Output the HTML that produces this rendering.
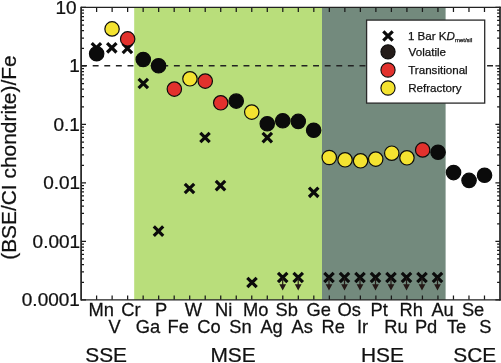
<!DOCTYPE html>
<html><head><meta charset="utf-8"><title>BSE/CI chondrite element depletion</title>
<style>html,body{margin:0;padding:0;background:#fff}svg{display:block}text{font-family:"Liberation Sans",sans-serif;fill:#111;stroke:#111;stroke-width:0.25px}</style>
</head><body>
<svg width="501" height="363" viewBox="0 0 501 363">
<rect width="501" height="363" fill="#fff"/>
<rect x="134.2" y="7.45" width="187.8" height="292.40000000000003" fill="#b9de7b"/>
<rect x="322.0" y="7.45" width="123.60000000000002" height="292.40000000000003" fill="#738a7d"/>
<line x1="81.1" y1="65.7" x2="500.0" y2="65.7" stroke="#222" stroke-width="1.4" stroke-dasharray="5.9 5.7" stroke-dashoffset="0"/>
<path d="M81.1 299.85h4.9M500.0 299.85h-4.6M81.1 282.25h2.9M500.0 282.25h-2.9M81.1 271.95h2.9M500.0 271.95h-2.9M81.1 264.64h2.9M500.0 264.64h-2.9M81.1 258.97h2.9M500.0 258.97h-2.9M81.1 254.34h2.9M500.0 254.34h-2.9M81.1 250.43h2.9M500.0 250.43h-2.9M81.1 247.04h2.9M500.0 247.04h-2.9M81.1 244.05h2.9M500.0 244.05h-2.9M81.1 241.37h4.9M500.0 241.37h-4.6M81.1 223.77h2.9M500.0 223.77h-2.9M81.1 213.47h2.9M500.0 213.47h-2.9M81.1 206.16h2.9M500.0 206.16h-2.9M81.1 200.49h2.9M500.0 200.49h-2.9M81.1 195.86h2.9M500.0 195.86h-2.9M81.1 191.95h2.9M500.0 191.95h-2.9M81.1 188.56h2.9M500.0 188.56h-2.9M81.1 185.57h2.9M500.0 185.57h-2.9M81.1 182.89h4.9M500.0 182.89h-4.6M81.1 165.29h2.9M500.0 165.29h-2.9M81.1 154.99h2.9M500.0 154.99h-2.9M81.1 147.68h2.9M500.0 147.68h-2.9M81.1 142.01h2.9M500.0 142.01h-2.9M81.1 137.38h2.9M500.0 137.38h-2.9M81.1 133.47h2.9M500.0 133.47h-2.9M81.1 130.08h2.9M500.0 130.08h-2.9M81.1 127.09h2.9M500.0 127.09h-2.9M81.1 124.41h4.9M500.0 124.41h-4.6M81.1 106.81h2.9M500.0 106.81h-2.9M81.1 96.51h2.9M500.0 96.51h-2.9M81.1 89.20h2.9M500.0 89.20h-2.9M81.1 83.53h2.9M500.0 83.53h-2.9M81.1 78.90h2.9M500.0 78.90h-2.9M81.1 74.99h2.9M500.0 74.99h-2.9M81.1 71.60h2.9M500.0 71.60h-2.9M81.1 68.61h2.9M500.0 68.61h-2.9M81.1 65.93h4.9M500.0 65.93h-4.6M81.1 48.33h2.9M500.0 48.33h-2.9M81.1 38.03h2.9M500.0 38.03h-2.9M81.1 30.72h2.9M500.0 30.72h-2.9M81.1 25.05h2.9M500.0 25.05h-2.9M81.1 20.42h2.9M500.0 20.42h-2.9M81.1 16.51h2.9M500.0 16.51h-2.9M81.1 13.12h2.9M500.0 13.12h-2.9M81.1 10.13h2.9M500.0 10.13h-2.9M81.1 7.45h4.9M500.0 7.45h-4.6M96.61 7.45v4.6M96.61 299.85v-4.3M112.13 7.45v4.6M112.13 299.85v-4.3M127.64 7.45v4.6M127.64 299.85v-4.3M143.16 7.45v4.6M143.16 299.85v-4.3M158.67 7.45v4.6M158.67 299.85v-4.3M174.19 7.45v4.6M174.19 299.85v-4.3M189.70 7.45v4.6M189.70 299.85v-4.3M205.22 7.45v4.6M205.22 299.85v-4.3M220.73 7.45v4.6M220.73 299.85v-4.3M236.25 7.45v4.6M236.25 299.85v-4.3M251.76 7.45v4.6M251.76 299.85v-4.3M267.28 7.45v4.6M267.28 299.85v-4.3M282.79 7.45v4.6M282.79 299.85v-4.3M298.31 7.45v4.6M298.31 299.85v-4.3M313.82 7.45v4.6M313.82 299.85v-4.3M329.34 7.45v4.6M329.34 299.85v-4.3M344.85 7.45v4.6M344.85 299.85v-4.3M360.37 7.45v4.6M360.37 299.85v-4.3M375.88 7.45v4.6M375.88 299.85v-4.3M391.40 7.45v4.6M391.40 299.85v-4.3M406.91 7.45v4.6M406.91 299.85v-4.3M422.43 7.45v4.6M422.43 299.85v-4.3M437.94 7.45v4.6M437.94 299.85v-4.3M453.46 7.45v4.6M453.46 299.85v-4.3M468.97 7.45v4.6M468.97 299.85v-4.3M484.49 7.45v4.6M484.49 299.85v-4.3" stroke="#1a1a1a" stroke-width="1.25" fill="none"/>
<path d="M81.1 7.45H501.0M81.1 299.85H501.0" stroke="#222" stroke-width="1.3" fill="none"/>
<path d="M81.1 6.8V300.5M500.0 6.8V300.5" stroke="#222" stroke-width="1.7" fill="none"/>
<path d="M91.70 43.10L101.10 52.50M91.70 52.50L101.10 43.10M107.10 43.10L116.50 52.50M107.10 52.50L116.50 43.10M122.70 43.70L132.10 53.10M122.70 53.10L132.10 43.70M138.60 78.80L148.00 88.20M138.60 88.20L148.00 78.80M153.80 226.40L163.20 235.80M153.80 235.80L163.20 226.40M184.80 183.80L194.20 193.20M184.80 193.20L194.20 183.80M200.30 132.80L209.70 142.20M200.30 142.20L209.70 132.80M215.80 180.90L225.20 190.30M215.80 190.30L225.20 180.90M247.30 277.80L256.70 287.20M247.30 287.20L256.70 277.80M262.60 132.90L272.00 142.30M262.60 142.30L272.00 132.90M309.00 187.60L318.40 197.00M309.00 197.00L318.40 187.60M278.00 272.80L287.40 282.20M278.00 282.20L287.40 272.80M293.50 272.80L302.90 282.20M293.50 282.20L302.90 272.80M324.30 272.80L333.70 282.20M324.30 282.20L333.70 272.80M339.80 272.80L349.20 282.20M339.80 282.20L349.20 272.80M355.30 272.80L364.70 282.20M355.30 282.20L364.70 272.80M370.80 272.80L380.20 282.20M370.80 282.20L380.20 272.80M386.30 272.80L395.70 282.20M386.30 282.20L395.70 272.80M401.80 272.80L411.20 282.20M401.80 282.20L411.20 272.80M417.30 272.80L426.70 282.20M417.30 282.20L426.70 272.80M432.80 272.80L442.20 282.20M432.80 282.20L442.20 272.80" stroke="#0b0b0b" stroke-width="3.2" fill="none"/>
<path d="M279.30 284.2h6.8l-3.4 6.2zM294.80 284.2h6.8l-3.4 6.2zM325.60 284.2h6.8l-3.4 6.2zM341.10 284.2h6.8l-3.4 6.2zM356.60 284.2h6.8l-3.4 6.2zM372.10 284.2h6.8l-3.4 6.2zM387.60 284.2h6.8l-3.4 6.2zM403.10 284.2h6.8l-3.4 6.2zM418.60 284.2h6.8l-3.4 6.2zM434.10 284.2h6.8l-3.4 6.2z" fill="#241816"/>
<path d="M282.70 278v7M298.20 278v7M329.00 278v7M344.50 278v7M360.00 278v7M375.50 278v7M391.00 278v7M406.50 278v7M422.00 278v7M437.50 278v7" stroke="#241816" stroke-width="1.2"/>
<circle cx="96.65" cy="53.70" r="7.2" fill="#0b0b0b" stroke="#0b0b0b" stroke-width="1.2"/>
<circle cx="112.05" cy="28.90" r="7.2" fill="#f4e330" stroke="#0b0b0b" stroke-width="1.2"/>
<circle cx="127.65" cy="38.90" r="7.2" fill="#e2312d" stroke="#0b0b0b" stroke-width="1.2"/>
<circle cx="143.25" cy="59.50" r="7.2" fill="#0b0b0b" stroke="#0b0b0b" stroke-width="1.2"/>
<circle cx="158.55" cy="65.80" r="7.2" fill="#0b0b0b" stroke="#0b0b0b" stroke-width="1.2"/>
<circle cx="174.35" cy="89.10" r="7.2" fill="#e2312d" stroke="#0b0b0b" stroke-width="1.2"/>
<circle cx="189.95" cy="78.80" r="7.2" fill="#f4e330" stroke="#0b0b0b" stroke-width="1.2"/>
<circle cx="205.25" cy="81.10" r="7.2" fill="#e2312d" stroke="#0b0b0b" stroke-width="1.2"/>
<circle cx="220.75" cy="102.80" r="7.2" fill="#e2312d" stroke="#0b0b0b" stroke-width="1.2"/>
<circle cx="236.25" cy="101.10" r="7.2" fill="#0b0b0b" stroke="#0b0b0b" stroke-width="1.2"/>
<circle cx="251.75" cy="112.10" r="7.2" fill="#f4e330" stroke="#0b0b0b" stroke-width="1.2"/>
<circle cx="267.25" cy="123.80" r="7.2" fill="#0b0b0b" stroke="#0b0b0b" stroke-width="1.2"/>
<circle cx="282.75" cy="120.80" r="7.2" fill="#0b0b0b" stroke="#0b0b0b" stroke-width="1.2"/>
<circle cx="298.25" cy="121.40" r="7.2" fill="#0b0b0b" stroke="#0b0b0b" stroke-width="1.2"/>
<circle cx="313.65" cy="130.30" r="7.2" fill="#0b0b0b" stroke="#0b0b0b" stroke-width="1.2"/>
<circle cx="329.25" cy="157.50" r="7.2" fill="#f4e330" stroke="#0b0b0b" stroke-width="1.2"/>
<circle cx="345.05" cy="159.80" r="7.2" fill="#f4e330" stroke="#0b0b0b" stroke-width="1.2"/>
<circle cx="360.55" cy="160.80" r="7.2" fill="#f4e330" stroke="#0b0b0b" stroke-width="1.2"/>
<circle cx="375.75" cy="159.10" r="7.2" fill="#f4e330" stroke="#0b0b0b" stroke-width="1.2"/>
<circle cx="391.75" cy="153.20" r="7.2" fill="#f4e330" stroke="#0b0b0b" stroke-width="1.2"/>
<circle cx="406.95" cy="157.80" r="7.2" fill="#f4e330" stroke="#0b0b0b" stroke-width="1.2"/>
<circle cx="422.65" cy="149.90" r="7.2" fill="#e2312d" stroke="#0b0b0b" stroke-width="1.2"/>
<circle cx="438.05" cy="152.30" r="7.2" fill="#0b0b0b" stroke="#0b0b0b" stroke-width="1.2"/>
<circle cx="453.55" cy="172.60" r="7.2" fill="#0b0b0b" stroke="#0b0b0b" stroke-width="1.2"/>
<circle cx="469.05" cy="180.40" r="7.2" fill="#0b0b0b" stroke="#0b0b0b" stroke-width="1.2"/>
<circle cx="484.55" cy="175.30" r="7.2" fill="#0b0b0b" stroke="#0b0b0b" stroke-width="1.2"/>
<rect x="366.6" y="20.1" width="118.1" height="83" fill="#fff" stroke="#2a2a2a" stroke-width="1.3"/>
<path d="M383.30 31.30L392.70 40.70M383.30 40.70L392.70 31.30" stroke="#0b0b0b" stroke-width="3.2" fill="none"/>
<circle cx="388" cy="51.8" r="7.1" fill="#241c19" stroke="#0b0b0b" stroke-width="1.1"/>
<circle cx="388" cy="70" r="7.1" fill="#e2312d" stroke="#0b0b0b" stroke-width="1.1"/>
<circle cx="388" cy="88" r="7.1" fill="#f4e330" stroke="#0b0b0b" stroke-width="1.1"/>
<g font-size="11.6">
<text x="407.9" y="40">1 Bar K<tspan font-style="italic">D</tspan><tspan font-size="6" dy="2.3">met/sil</tspan></text>
<text x="408.6" y="55.6">Volatile</text>
<text x="408.2" y="74">Transitional</text>
<text x="408.2" y="92.1">Refractory</text>
</g>
<text transform="translate(76.5 13.7) scale(1.055 1)" font-size="18" text-anchor="end">10</text>
<text transform="translate(79.9 71.7) scale(1.055 1)" font-size="18" text-anchor="end">1</text>
<text transform="translate(79.9 130.7) scale(1.055 1)" font-size="18" text-anchor="end">0.1</text>
<text transform="translate(80.1 189.1) scale(1.055 1)" font-size="18" text-anchor="end">0.01</text>
<text transform="translate(80.1 247.7) scale(1.055 1)" font-size="18" text-anchor="end">0.001</text>
<text transform="translate(79.9 306.3) scale(1.055 1)" font-size="18" text-anchor="end">0.0001</text>
<text transform="translate(88.4 316.0) scale(0.985 1)" font-size="18.6" text-anchor="start">Mn</text>
<text transform="translate(121.3 316.0) scale(0.985 1)" font-size="18.6" text-anchor="start">Cr</text>
<text transform="translate(155 316.0) scale(0.985 1)" font-size="18.6" text-anchor="start">P</text>
<text transform="translate(184.8 316.0) scale(0.985 1)" font-size="18.6" text-anchor="start">W</text>
<text transform="translate(215 316.0) scale(0.985 1)" font-size="18.6" text-anchor="start">Ni</text>
<text transform="translate(243 316.0) scale(0.985 1)" font-size="18.6" text-anchor="start">Mo</text>
<text transform="translate(275.5 316.0) scale(0.985 1)" font-size="18.6" text-anchor="start">Sb</text>
<text transform="translate(306.4 316.0) scale(0.985 1)" font-size="18.6" text-anchor="start">Ge</text>
<text transform="translate(337.6 316.0) scale(0.985 1)" font-size="18.6" text-anchor="start">Os</text>
<text transform="translate(370.6 316.0) scale(0.985 1)" font-size="18.6" text-anchor="start">Pt</text>
<text transform="translate(399.4 316.0) scale(0.985 1)" font-size="18.6" text-anchor="start">Rh</text>
<text transform="translate(431.4 316.0) scale(0.985 1)" font-size="18.6" text-anchor="start">Au</text>
<text transform="translate(461.9 316.0) scale(0.985 1)" font-size="18.6" text-anchor="start">Se</text>
<text transform="translate(108.6 332.5) scale(0.985 1)" font-size="18.6" text-anchor="start">V</text>
<text transform="translate(135.7 332.5) scale(0.985 1)" font-size="18.6" text-anchor="start">Ga</text>
<text transform="translate(167.5 332.5) scale(0.985 1)" font-size="18.6" text-anchor="start">Fe</text>
<text transform="translate(197.2 332.5) scale(0.985 1)" font-size="18.6" text-anchor="start">Co</text>
<text transform="translate(229.2 332.5) scale(0.985 1)" font-size="18.6" text-anchor="start">Sn</text>
<text transform="translate(260.4 332.5) scale(0.985 1)" font-size="18.6" text-anchor="start">Ag</text>
<text transform="translate(291.5 332.5) scale(0.985 1)" font-size="18.6" text-anchor="start">As</text>
<text transform="translate(321.5 332.5) scale(0.985 1)" font-size="18.6" text-anchor="start">Re</text>
<text transform="translate(357 332.5) scale(0.985 1)" font-size="18.6" text-anchor="start">Ir</text>
<text transform="translate(384.2 332.5) scale(0.985 1)" font-size="18.6" text-anchor="start">Ru</text>
<text transform="translate(414.9 332.5) scale(0.985 1)" font-size="18.6" text-anchor="start">Pd</text>
<text transform="translate(446.9 332.5) scale(0.985 1)" font-size="18.6" text-anchor="start">Te</text>
<text transform="translate(479.2 332.5) scale(0.985 1)" font-size="18.6" text-anchor="start">S</text>
<text transform="translate(85.2 361.6) scale(1.035 1)" font-size="20.2" text-anchor="start">SSE</text>
<text transform="translate(210.4 361.6) scale(1.035 1)" font-size="20.2" text-anchor="start">MSE</text>
<text transform="translate(361 361.6) scale(1.035 1)" font-size="20.2" text-anchor="start">HSE</text>
<text transform="translate(453.3 361.6) scale(1.035 1)" font-size="20.2" text-anchor="start">SCE</text>
<text transform="translate(16 259.8) rotate(-90) scale(1.035 1)" font-size="20.2">(BSE/CI chondrite)/Fe</text>
</svg></body></html>
